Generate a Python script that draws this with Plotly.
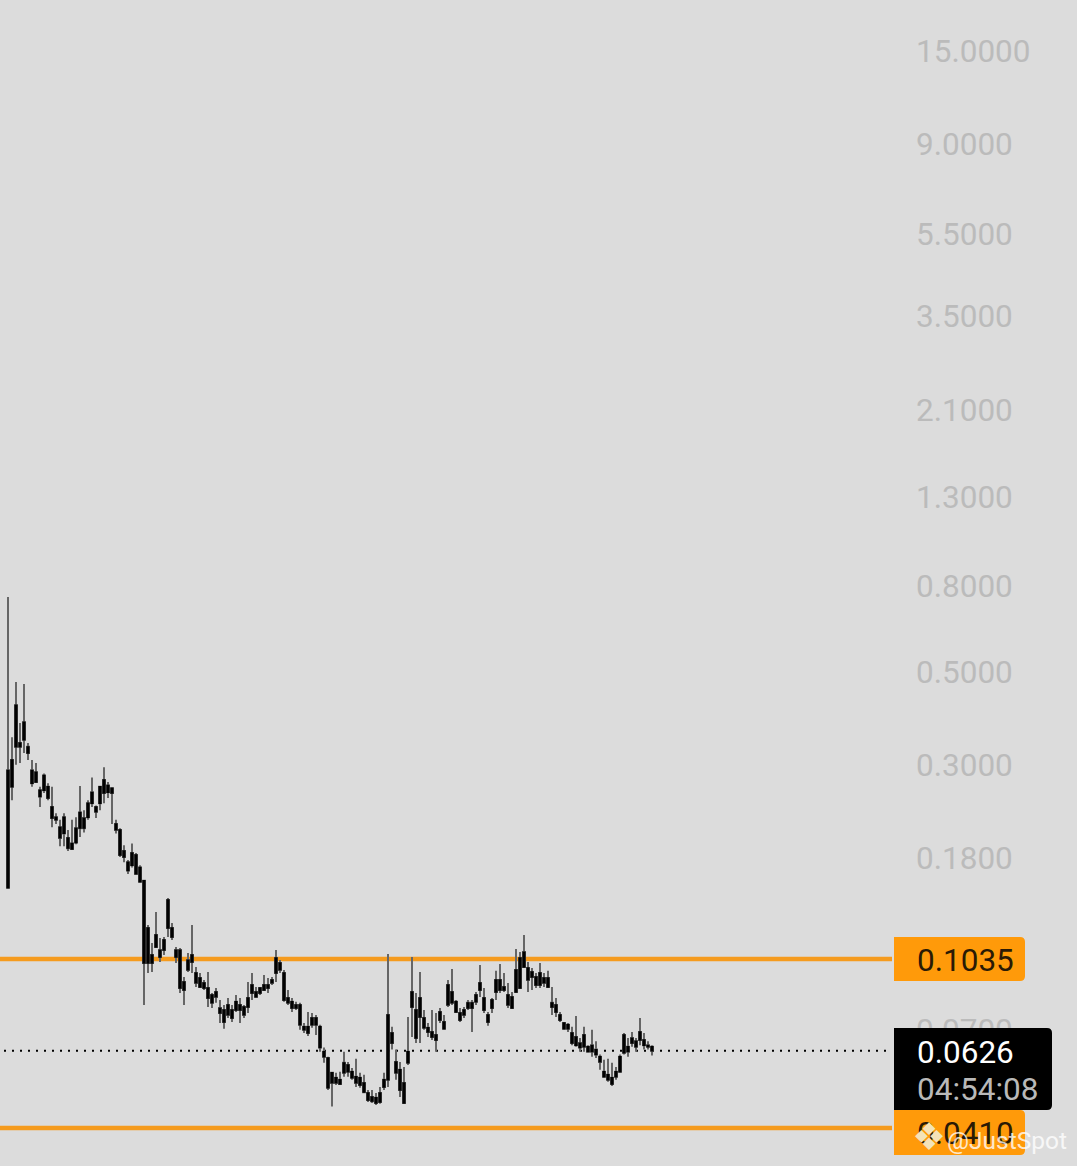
import plotly.graph_objects as go

high = [.752, .349, .472, .377, .467, .338, .308, .303, .266, .286, .271, .266, .230, .222, .230, .210, .222, .225, .267, .234,
        .247, .280, .240, .266, .296, .273, .264, .222, .212, .193, .178, .195, .185, .173, .159, .1247, .1130, .1339, .1161, .1167,
        .1446, .1261, .1105, .1099, .0938, .1069, .1247, .0991, .0959, .0923, .0964, .0859, .0883, .0827, .0805, .0836, .0805, .0850, .0836, .0805,
        .0913, .0959, .0888, .0888, .0948, .0933, .0938, .1087, .1029, .0975, .0873, .0836, .0819, .0814, .0729, .0774, .0770, .0762, .0722, .0637,
        .0606, .0558, .0555, .0558, .0623, .0589, .0570, .0599, .0555, .0549, .0505, .0505, .0497, .0513, .0555, .1064, .0714, .0630, .0589, .0573,
        .0753, .1046, .0859, .0964, .0783, .0729, .0783, .0770, .0791, .0762, .0923, .0980, .0827, .0791, .0796, .0827, .0827, .0864, .1001, .0883,
        .0774, .0836, .0970, .1007, .0959, .0908, .0864, .1093, .1075, .1181, .1018, .0985, .0959, .1013, .0959, .0970, .0888, .0836, .0774, .0733,
        .0729, .0714, .0757, .0671, .0714, .0645, .0702, .0660, .0613, .0596, .0599, .0586, .0573, .0613, .0690, .0671, .0694, .0671, .0749, .0690,
        .0660, .0645]
low = [.153, .247, .300, .303, .320, .308, .266, .276, .238, .257, .247, .213, .217, .192, .192, .187, .189, .194, .202, .207,
       .222, .238, .224, .234, .243, .250, .217, .206, .181, .176, .165, .171, .165, .158, .0805, .0959, .0964, .1099, .1018, .1058,
       .1167, .1149, .1013, .0859, .0805, .0964, .0959, .0888, .0883, .0873, .0796, .0791, .0814, .0729, .0706, .0749, .0733, .0774, .0729, .0749,
       .0770, .0827, .0836, .0850, .0873, .0859, .0898, .0913, .0959, .0819, .0805, .0774, .0783, .0702, .0690, .0679, .0710, .0683, .0623, .0586,
       .0505, .0461, .0519, .0519, .0543, .0543, .0534, .0513, .0511, .0497, .0473, .0470, .0465, .0468, .0505, .0513, .0630, .0534, .0486, .0468,
       .0579, .0675, .0653, .0653, .0702, .0675, .0664, .0623, .0729, .0702, .0796, .0805, .0770, .0733, .0749, .0783, .0694, .0805, .0841, .0770,
       .0718, .0770, .0827, .0859, .0864, .0791, .0787, .0864, .0883, .0985, .0864, .0873, .0883, .0883, .0888, .0888, .0762, .0753, .0733, .0702,
       .0694, .0645, .0640, .0623, .0623, .0619, .0606, .0602, .0564, .0540, .0528, .0516, .0534, .0555, .0613, .0606, .0640, .0623, .0645, .0630,
       .0630, .0610]
body_top = [.291, .308, .416, .338, .379, .331, .291, .288, .261, .283, .266, .238, .225, .213, .225, .201, .195, .212, .231, .224,
            .243, .258, .238, .266, .276, .268, .264, .217, .210, .187, .176, .185, .183, .171, .159, .1227, .1058, .1181, .1087, .1149,
            .1430, .1227, .1087, .1087, .0913, .1029, .1058, .0959, .0933, .0908, .0883, .0850, .0864, .0791, .0783, .0805, .0783, .0819, .0805, .0796,
            .0836, .0898, .0864, .0883, .0898, .0898, .0923, .1041, .1013, .0959, .0836, .0819, .0805, .0805, .0714, .0714, .0749, .0749, .0714, .0623,
            .0602, .0555, .0540, .0534, .0586, .0579, .0558, .0543, .0540, .0525, .0497, .0486, .0484, .0497, .0534, .0762, .0690, .0589, .0564, .0525,
            .0623, .0864, .0783, .0836, .0749, .0710, .0694, .0683, .0774, .0733, .0898, .0864, .0819, .0770, .0783, .0814, .0814, .0850, .0908, .0836,
            .0762, .0827, .0923, .0923, .0888, .0850, .0841, .0975, .1041, .1075, .0985, .0964, .0938, .0959, .0933, .0933, .0814, .0805, .0762, .0729,
            .0722, .0690, .0675, .0653, .0683, .0640, .0645, .0630, .0606, .0558, .0549, .0540, .0558, .0606, .0683, .0640, .0671, .0660, .0694, .0664,
            .0645, .0640]
body_bottom = [.153, .266, .331, .331, .344, .320, .271, .273, .252, .261, .250, .224, .222, .201, .206, .190, .189, .196, .212, .212,
               .225, .243, .232, .243, .257, .258, .257, .210, .183, .181, .168, .173, .165, .158, .1013, .1013, .1013, .1105, .1046, .1087,
               .1227, .1167, .1046, .0883, .0873, .0975, .1018, .0908, .0888, .0883, .0836, .0814, .0841, .0770, .0733, .0762, .0749, .0783, .0783, .0762,
               .0796, .0859, .0841, .0859, .0873, .0883, .0908, .0959, .0975, .0827, .0814, .0791, .0791, .0722, .0702, .0690, .0722, .0722, .0637, .0606,
               .0511, .0525, .0525, .0522, .0555, .0558, .0540, .0525, .0519, .0499, .0478, .0475, .0470, .0473, .0513, .0534, .0653, .0555, .0505, .0470,
               .0586, .0796, .0671, .0753, .0710, .0694, .0675, .0664, .0741, .0706, .0805, .0814, .0774, .0741, .0762, .0791, .0791, .0819, .0873, .0783,
               .0733, .0791, .0864, .0873, .0873, .0805, .0791, .0864, .0883, .0991, .0923, .0938, .0898, .0898, .0908, .0888, .0796, .0774, .0741, .0706,
               .0706, .0653, .0645, .0637, .0640, .0623, .0623, .0613, .0589, .0543, .0534, .0522, .0543, .0558, .0619, .0623, .0653, .0640, .0664, .0645,
               .0640, .0626]
candle = list(range(len(high)))

tick_vals = [15, 9, 5.5, 3.5, 2.1, 1.3, .8, .5, .3, .18, .07]
tick_text = ['15.0000', '9.0000', '5.5000', '3.5000', '2.1000', '1.3000', '0.8000', '0.5000', '0.3000', '0.1800', '0.0700']

upper_level = 0.1035
lower_level = 0.0410
last_price = 0.0626
countdown = '04:54:08'

W, H = 1077, 1166
PLOT_W = 912
BG = '#dcdcdc'
ORANGE = '#ff9a0a'
LINE_ORANGE = '#f59b1e'
WICK = '#666666'


def px(x):
    return x / PLOT_W


def py(y):
    return 1 - y / H


def round_box(x0, y0, x1, y1, color, r=5):
    # label box with rounded right corners, in page pixels
    path = (f'M {px(x0)} {py(y0)} L {px(x1 - r)} {py(y0)} Q {px(x1)} {py(y0)} {px(x1)} {py(y0 + r)} '
            f'L {px(x1)} {py(y1 - r)} Q {px(x1)} {py(y1)} {px(x1 - r)} {py(y1)} L {px(x0)} {py(y1)} Z')
    return dict(type='path', xref='paper', yref='paper', path=path, fillcolor=color,
                line=dict(width=0), layer='above')


def label(text, x, y, color, size=31.5, family='Roboto', **kw):
    return dict(text=text, xref='paper', yref='paper', x=px(x), y=py(y), xanchor='left', yanchor='middle',
                showarrow=False, font=dict(family=family, size=size, color=color), **kw)


fig = go.Figure()
fig.add_trace(go.Candlestick(
    x=candle, open=body_top, close=body_bottom, high=high, low=low, whiskerwidth=0,
    increasing=dict(line=dict(color=WICK, width=2), fillcolor=WICK),
    decreasing=dict(line=dict(color=WICK, width=2), fillcolor=WICK),
    showlegend=False, hoverinfo='skip'))
fig.add_trace(go.Candlestick(
    x=candle, open=body_top, close=body_bottom, high=body_top, low=body_bottom, whiskerwidth=0,
    increasing=dict(line=dict(color='#000000', width=1.4), fillcolor='#000000'),
    decreasing=dict(line=dict(color='#000000', width=1.4), fillcolor='#000000'),
    showlegend=False, hoverinfo='skip'))

shapes = [
    dict(type='line', xref='paper', yref='y', x0=0, x1=px(892), y0=upper_level, y1=upper_level,
         line=dict(color=LINE_ORANGE, width=4.5), layer='below'),
    dict(type='line', xref='paper', yref='y', x0=0, x1=px(892), y0=lower_level, y1=lower_level,
         line=dict(color=LINE_ORANGE, width=4.5), layer='below'),
    dict(type='line', xref='paper', yref='y', x0=px(4), x1=px(890), y0=last_price, y1=last_price,
         line=dict(color='#000000', width=2, dash='2px 6px'), layer='below'),
    round_box(894, 937, 1025, 981, ORANGE),
    round_box(894, 1110, 1025, 1155, ORANGE),
    round_box(894, 1028, 1052, 1110, '#000000'),
]

annotations = [
    label(f'{upper_level:.4f}', 915, 960, '#2a1a05'),
    label(f'{lower_level:.4f}', 915, 1133, '#2a1a05'),
    label(f'{last_price:.4f}', 915, 1052, '#ffffff'),
    label(countdown, 915, 1089, '#b9b9b9'),
    label('❖', 910, 1137, '#f4e3b8', size=38, family='DejaVu Sans'),
    label('@JustSpot', 945, 1140, 'rgba(255,255,255,0.8)', size=24.5),
]

fig.update_layout(
    width=W, height=H,
    margin=dict(l=0, r=W - PLOT_W, t=0, b=0, autoexpand=False),
    paper_bgcolor=BG, plot_bgcolor=BG,
    showlegend=False, boxgap=0.35,
    shapes=shapes, annotations=annotations,
    xaxis=dict(range=[-2, (PLOT_W - 8) / 4], visible=False, rangeslider=dict(visible=False), fixedrange=True),
    yaxis=dict(type='log', side='right', range=[-1.4776, 1.2971], tickmode='array',
               tickvals=tick_vals, ticktext=tick_text, showgrid=False, zeroline=False, showline=False,
               ticks='', ticklabelstandoff=3,
               tickfont=dict(family='Roboto', size=31.5, color='#bbbbbb'), fixedrange=True),
)

# the page's default body margin would push the figure 8px in
fig.write_html('out.html', config=dict(displayModeBar=False),
               post_script="document.body.style.margin='0';document.body.style.overflow='hidden';")
